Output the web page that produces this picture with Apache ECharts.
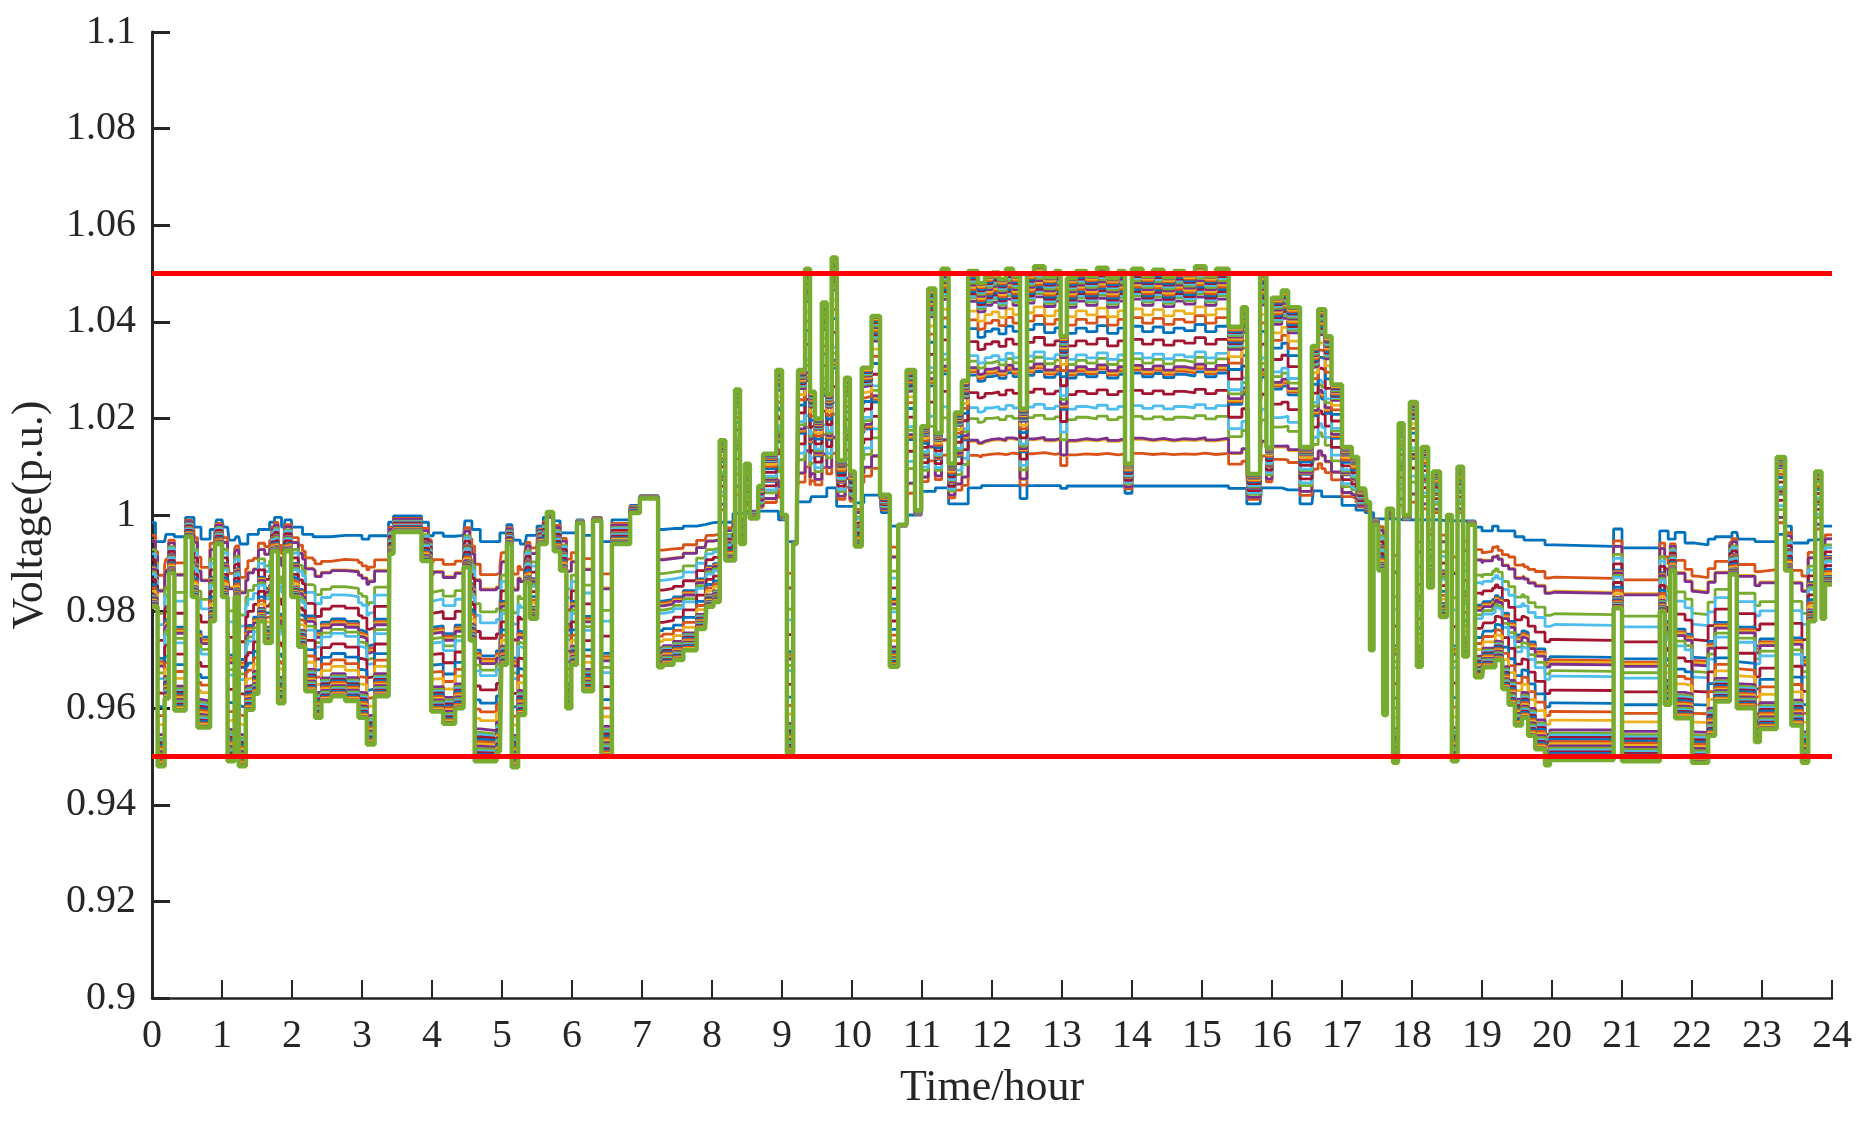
<!DOCTYPE html>
<html>
<head>
<meta charset="utf-8">
<script src="https://cdn.jsdelivr.net/npm/echarts@6/dist/echarts.min.js"></script>
<style>html,body{margin:0;padding:0;background:#fff;}#chart{width:1869px;height:1122px;}</style>
</head>
<body>
<div id="chart"></div>
<script>
// ---- data (step segments: start hour, voltage p.u.) ----
const lastBusTime = [
 0.00,0.08,0.18,0.24,0.32,0.48,0.57,0.65,0.83,0.90,1.00,1.08,1.18,1.24,1.34,1.45,1.52,1.61,1.71,1.80,
 1.89,1.99,2.09,2.19,2.33,2.42,2.57,2.76,2.95,3.07,3.18,3.39,3.45,3.85,3.99,4.16,4.33,4.45,4.54,4.61,
 4.92,4.99,5.07,5.14,5.23,5.33,5.40,5.52,5.64,5.74,5.83,5.92,5.99,6.07,6.16,6.30,6.42,6.57,6.83,6.97,
 7.23,7.30,7.45,7.59,7.78,7.92,8.02,8.11,8.19,8.33,8.40,8.47,8.54,8.66,8.73,8.92,9.00,9.07,9.16,9.23,
 9.33,9.40,9.47,9.57,9.64,9.71,9.80,9.90,9.97,10.04,10.14,10.28,10.40,10.54,10.66,10.78,10.90,10.99,11.09,11.19,
 11.28,11.38,11.47,11.57,11.66,11.80,11.90,12.00,12.10,12.20,12.30,12.40,12.50,12.60,12.75,12.90,12.98,13.07,13.20,13.35,
 13.50,13.65,13.80,13.90,14.00,14.15,14.30,14.45,14.60,14.75,14.90,15.05,15.20,15.38,15.57,15.66,15.83,15.92,16.00,16.14,
 16.23,16.40,16.57,16.66,16.76,16.85,17.00,17.14,17.23,17.35,17.40,17.45,17.52,17.59,17.64,17.73,17.81,17.88,17.97,18.07,
 18.14,18.23,18.30,18.40,18.50,18.57,18.65,18.73,18.80,18.90,19.02,19.19,19.29,19.38,19.47,19.57,19.66,19.76,19.90,19.97,
 20.88,21.00,21.54,21.61,21.69,21.76,22.00,22.23,22.33,22.54,22.64,22.90,22.97,23.21,23.33,23.42,23.57,23.66,23.76,23.85,
 23.90,24.00
];
const lastBusV = [
 0.981,0.948,0.962,0.988,0.9595,0.9955,0.983,0.956,0.978,0.994,0.983,0.949,0.983,0.948,0.9597,0.963,0.978,0.9735,0.9925,0.961,
 0.9925,0.983,0.9727,0.9635,0.958,0.9615,0.9625,0.9615,0.958,0.9525,0.9625,0.992,0.9965,0.9905,0.9593,0.9568,0.960,0.9892,0.974,0.949,
 0.951,0.969,0.994,0.9478,0.9586,0.986,0.9785,0.994,1.0006,0.9925,0.9885,0.960,0.969,0.9983,0.9635,0.9988,0.950,0.994,1.0004,1.0034,
 0.9685,0.969,0.970,0.972,0.9764,0.981,0.982,1.0155,0.9906,1.026,0.994,1.0106,0.9993,1.006,1.0127,1.030,1.000,0.9507,0.994,1.030,
 1.051,1.0255,1.020,1.044,1.025,1.0533,1.0113,1.0284,1.009,0.9935,1.0305,1.0412,1.0042,0.9686,0.998,1.030,1.001,1.0184,1.0469,1.017,
 1.051,1.0106,1.0212,1.0278,1.0505,1.048,1.0495,1.0502,1.0488,1.0510,1.0495,1.022,1.0500,1.0515,1.0492,1.0505,1.037,1.049,1.0505,1.0495,
 1.0512,1.0490,1.0505,1.0106,1.0510,1.0495,1.0508,1.0492,1.0505,1.0498,1.0515,1.0495,1.0510,1.039,1.043,1.0085,1.0497,1.014,1.045,1.0465,
 1.043,1.0141,1.035,1.0426,1.037,1.027,1.0141,1.012,1.0055,1.0027,0.972,0.998,0.9885,0.9586,1.0013,0.9487,1.019,1.000,1.0234,0.9686,
 1.0141,0.985,1.009,0.9789,1.000,0.949,1.010,0.9707,0.998,0.9664,0.9685,0.970,0.964,0.9607,0.9564,0.958,0.9543,0.9515,0.9482,0.9493,
 0.9807,0.949,0.980,0.9607,0.9885,0.9579,0.9487,0.9543,0.9614,0.9877,0.960,0.953,0.9557,1.012,0.9885,0.9564,0.9487,0.978,1.009,0.9785,
 0.9856,0.9856
];
const firstBusTime = [
 0.00,0.05,0.20,0.32,0.48,0.60,0.70,0.83,0.92,1.02,1.10,1.20,1.26,1.37,1.52,1.68,1.75,1.85,1.90,2.00,
 2.15,2.30,2.55,3.00,3.10,3.38,3.45,3.85,3.95,4.02,4.16,4.33,4.47,4.57,4.69,4.97,5.07,5.16,5.26,5.35,
 5.50,5.59,5.73,5.83,6.07,6.16,6.30,6.42,6.57,6.83,6.97,7.23,7.30,7.59,7.78,7.90,8.02,8.30,8.50,8.95,
 9.07,9.21,9.42,9.64,9.78,10.05,10.17,10.42,10.54,10.80,10.99,11.19,11.38,11.66,11.85,12.40,12.50,12.98,13.07,13.90,
 14.00,15.38,15.64,15.85,16.14,16.40,16.59,16.71,17.00,17.20,17.33,17.45,17.80,18.40,18.90,19.00,19.15,19.23,19.47,19.60,
 19.90,20.04,20.88,21.00,21.54,21.66,21.76,21.90,22.04,22.23,22.33,22.57,22.66,22.90,23.21,23.33,23.42,23.66,23.76,23.85,
 24.00
];
const firstBusV = [
 0.9984,0.9945,0.996,0.9955,0.9995,0.9975,0.995,0.997,0.999,0.9975,0.9948,0.9955,0.994,0.996,0.997,0.9985,0.9995,0.9975,0.999,0.9975,
 0.996,0.9955,0.9958,0.995,0.9957,0.9985,0.9998,0.9985,0.9957,0.9963,0.9956,0.9958,0.9988,0.997,0.9945,0.9963,0.998,0.9948,0.994,0.9958,
 0.9977,0.9995,0.9988,0.9963,0.999,0.9958,0.9995,0.9945,0.999,1.002,1.004,0.997,0.9972,0.9977,0.998,0.9984,0.9985,1.0003,1.0008,0.999,
 0.9945,1.0027,1.0038,1.0056,1.0018,1.0025,1.0041,1.0005,0.9977,1.000,1.0049,1.0056,1.0023,1.0056,1.0061,1.0034,1.0061,1.0055,1.006,1.0045,
 1.006,1.0055,1.0023,1.0056,1.0052,1.0023,1.005,1.0038,1.002,1.001,1.0005,0.9992,0.999,0.9988,0.9975,0.9967,0.9977,0.9967,0.9955,0.9948,
 0.9938,0.9935,0.9971,0.9932,0.9967,0.995,0.9964,0.9942,0.9938,0.995,0.9955,0.9964,0.995,0.9945,0.996,0.9977,0.9942,0.9948,0.995,0.9977,
 0.9977
];
// relative depth of each of the 33 bus curves between the first (0) and last (1) bus, read from the plateaus
const busDepth = [
 0,0.15,0.215,0.22,0.32,0.37,0.44,0.52,0.535,0.545,0.555,0.585,0.61,0.675,0.735,0.775,0.815,
 0.86,0.875,0.885,0.895,0.905,0.915,0.925,0.935,0.945,0.955,0.963,0.97,0.978,0.985,0.993,1.0
];
const voltageLimits = [0.95, 1.05];
const xTicks = {min: 0, max: 24, interval: 1};
const yTicks = {min: 0.9, max: 1.1, interval: 0.02};
const palette = ['#0072BD','#D95319','#EDB120','#7E2F8E','#77AC30','#4DBEEE','#A2142F'];

// ---- build series ----
function holdAt(times, vals, t) {
  let v = vals[0];
  for (let i = 0; i < times.length; i++) { if (times[i] <= t + 1e-9) v = vals[i]; else break; }
  return v;
}
const grid = Array.from(new Set(lastBusTime.concat(firstBusTime))).sort((a, b) => a - b);
const gLast = grid.map(t => holdAt(lastBusTime, lastBusV, t));
const gFirst = grid.map(t => holdAt(firstBusTime, firstBusV, t));

const series = busDepth.map((w, k) => ({
  type: 'line',
  step: 'end',
  showSymbol: false,
  silent: true,
  animation: false,
  data: grid.map((t, i) => [t, gFirst[i] + (gLast[i] - gFirst[i]) * w]),
  lineStyle: {color: palette[k % 7], width: k === busDepth.length - 1 ? 4.5 : 2.8},
  itemStyle: {color: palette[k % 7]},
  z: 2 + k
}));
voltageLimits.forEach(lim => series.push({
  type: 'line', showSymbol: false, silent: true, animation: false,
  data: [[xTicks.min, lim], [xTicks.max, lim]],
  lineStyle: {color: '#FF0000', width: 5}, z: 100
}));

const font = 'Liberation Serif';
const axisColor = '#262626';
const chart = echarts.init(document.getElementById('chart'));
chart.setOption({
  backgroundColor: '#ffffff',
  animation: false,
  grid: {left: 152, right: 37, top: 32, bottom: 124},
  xAxis: {
    type: 'value', min: xTicks.min, max: xTicks.max, interval: xTicks.interval,
    name: 'Time/hour', nameLocation: 'middle', nameGap: 68,
    nameTextStyle: {fontFamily: font, fontSize: 44, color: axisColor},
    axisLine: {onZero: false, lineStyle: {color: axisColor, width: 2.5}},
    axisTick: {inside: true, length: 18, lineStyle: {color: axisColor, width: 2}},
    axisLabel: {fontFamily: font, fontSize: 40, color: axisColor, margin: 18},
    splitLine: {show: false}
  },
  yAxis: {
    type: 'value', min: yTicks.min, max: yTicks.max, interval: yTicks.interval,
    name: 'Voltage(p.u.)', nameLocation: 'middle', nameGap: 100, nameRotate: 90,
    nameTextStyle: {fontFamily: font, fontSize: 44, color: axisColor},
    axisLine: {onZero: false, lineStyle: {color: axisColor, width: 3}},
    axisTick: {inside: true, length: 18, lineStyle: {color: axisColor, width: 3}},
    axisLabel: {fontFamily: font, fontSize: 40, color: axisColor, margin: 16,
      formatter: v => String(parseFloat(v.toFixed(2)))},
    splitLine: {show: false}
  },
  series: series
});
</script>
</body>
</html>
